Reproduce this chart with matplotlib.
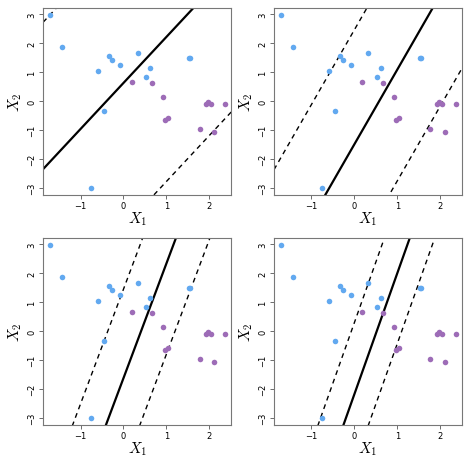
import matplotlib
matplotlib.use("Agg")
import matplotlib.pyplot as plt
import numpy as np

plt.rcParams['mathtext.fontset'] = 'cm'

blue_x = [-1.71, -1.43, -0.60, -0.33, -0.26, -0.07, 0.33, 0.61, 0.52, -0.46, -0.75, 1.52, 1.55]
blue_y = [2.98, 1.88, 1.04, 1.57, 1.41, 1.24, 1.68, 1.16, 0.83, -0.33, -2.98, 1.50, 1.50]
purple_x = [0.19, 0.66, 0.92, 0.96, 1.04, 1.77, 1.93, 1.96, 2.04, 2.36, 2.10]
purple_y = [0.66, 0.62, 0.13, -0.65, -0.59, -0.95, -0.08, -0.03, -0.09, -0.11, -1.08]

# per panel: slope, intercept of solid line, upper dashed intercept, lower dashed intercept
slopes = [1.59, 2.58, 3.96, 4.18]
intercepts = [0.63, -1.49, -1.62, -2.18]
upper_int = [5.70, 2.46, 1.45, 0.29]
lower_int = [-4.36, -5.33, -4.75, -4.61]

fig = plt.figure(figsize=(4.74, 4.6), dpi=100)
lefts = [0.091, 0.578, 0.091, 0.578]
bottoms = [0.575, 0.575, 0.075, 0.075]
xlim = (-1.87, 2.51)
ylim = (-3.22, 3.21)
xs = np.array(xlim)
for i in range(4):
    ax = fig.add_axes([lefts[i], bottoms[i], 0.397, 0.405])
    ax.scatter(blue_x, blue_y, s=16, color='#62a9f0', zorder=3, linewidths=0)
    ax.scatter(purple_x, purple_y, s=16, color='#9d6cb7', zorder=3, linewidths=0)
    ax.plot(xs, slopes[i] * xs + intercepts[i], color='black', lw=1.6)
    ax.plot(xs, slopes[i] * xs + upper_int[i], color='black', lw=1.0, ls=(0, (3.5, 3)))
    ax.plot(xs, slopes[i] * xs + lower_int[i], color='black', lw=1.0, ls=(0, (3.5, 3)))
    ax.set_xlim(xlim)
    ax.set_ylim(ylim)
    ax.set_xticks([-1, 0, 1, 2])
    ax.set_yticks([-3, -2, -1, 0, 1, 2, 3])
    ax.tick_params(labelsize=6, length=3, color='#555555', width=0.6, pad=2)
    for lab in ax.get_yticklabels():
        lab.set_rotation(90)
        lab.set_va('center')
    for s in ax.spines.values():
        s.set_color('#777777')
        s.set_linewidth(0.8)
    ax.set_xlabel('$X_1$', fontsize=11, labelpad=-1)
    ax.set_ylabel('$X_2$', fontsize=11, labelpad=2)

fig.savefig('out.png', dpi=100)
